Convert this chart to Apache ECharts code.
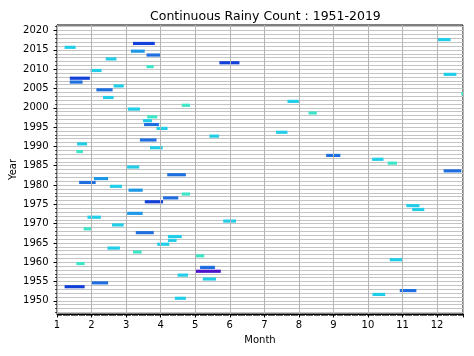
<!DOCTYPE html>
<html><head><meta charset="utf-8">
<script src="https://cdn.jsdelivr.net/npm/echarts@6/dist/echarts.min.js"></script>
<style>html,body{margin:0;padding:0;background:#fff}#c{width:474px;height:356px}</style>
</head><body><div id="c"></div>
<script>
// Year of each rainy spell
const years = [2018,2017,2016,2015,2014,2013,2012,2011,2010,2009,2008,2007,2006,2005,2004,2003,2002,2001,2000,1999,
  1998,1997,1996,1995,1994,1993,1992,1991,1990,1989,1988,1987,1986,1985,1984,1983,1982,1981,1980,1979,
  1978,1977,1976,1975,1974,1973,1972,1971,1970,1969,1968,1967,1966,1965,1964,1963,1962,1961,1960,1959,
  1958,1957,1956,1955,1954,1953,1952,1951];
// Start (month, fractional)
const startMonth = [12.00,3.20,1.22,3.14,3.59,2.41,5.70,3.59,1.97,12.19,1.37,1.37,2.64,2.14,12.70,2.33,7.67,4.61,3.05,8.28,
  3.61,3.49,3.52,3.88,7.34,5.41,3.40,1.58,3.69,1.56,8.79,10.12,10.57,3.03,12.19,4.19,2.07,1.64,2.53,3.07,
  4.61,4.07,3.54,11.11,11.28,3.03,1.88,5.81,2.59,1.77,3.28,4.21,4.21,3.90,2.46,3.20,5.01,10.63,1.56,5.14,
  5.01,4.49,5.22,2.01,1.22,10.92,10.13,4.41];
// End (month, fractional)
const endMonth = [12.39,3.83,1.54,3.54,4.00,2.72,6.28,3.80,2.29,12.56,1.95,1.74,2.93,2.61,12.85,2.64,8.00,4.85,3.40,8.52,
  3.90,3.75,3.95,4.20,7.67,5.69,3.88,1.87,4.06,1.75,9.20,10.45,10.84,3.38,12.70,4.73,2.48,2.12,2.88,3.48,
  4.85,4.51,4.07,11.49,11.63,3.48,2.27,6.18,2.93,2.00,3.80,4.61,4.46,4.25,2.82,3.45,5.26,10.99,1.80,5.57,
  5.74,4.79,5.60,2.48,1.80,11.40,10.50,4.73];
// Continuous rainy count (drives colour)
const rainyCount = [9,16,9,11,13,9,16,7,9,9,16,13,9,13,7,9,9,7,9,7,
  7,9,13,9,9,9,13,9,9,7,13,9,7,9,13,13,11,13,9,11,
  7,13,16,9,9,11,9,9,9,7,13,9,9,9,9,7,7,9,7,13,
  20,9,9,13,16,13,9,9];
const xTickLabels = [1,2,3,4,5,6,7,8,9,10,11,12];
const yTickLabels = [1950,1955,1960,1965,1970,1975,1980,1985,1990,1995,2000,2005,2010,2015,2020];
const yMinorYears = [];
for (let y = 1947; y <= 2021; y++) yMinorYears.push(y);

const data = years.map((y, i) => [startMonth[i], endMonth[i], y, rainyCount[i]]);
const FONT = 'DejaVu Sans';
const chart = echarts.init(document.getElementById('c'), null, {renderer: 'canvas'});
const yMin = 1946.6, yMax = 2021.45;
chart.setOption({
  animation: false,
  backgroundColor: '#fff',
  title: {
    text: 'Continuous Rainy Count : 1951-2019',
    left: 145, top: 5,
    textStyle: {fontFamily: FONT, fontSize: 12.5, fontWeight: 'normal', color: '#000'}
  },
  grid: {left: 57, top: 25, width: 406, height: 289, show: true, borderColor: '#000', borderWidth: 1,
    backgroundColor: 'transparent', containLabel: false, outerBoundsMode: 'none'},
  xAxis: {
    type: 'value', min: 1, max: 12.75, interval: 1, z: 5,
    name: 'Month', nameLocation: 'middle', nameGap: 21,
    nameTextStyle: {fontFamily: FONT, fontSize: 10, color: '#000'},
    axisLine: {show: true, lineStyle: {color: '#000', width: 1}},
    axisTick: {show: true, length: 3.5, lineStyle: {color: '#000'}},
    minorTick: {show: true, splitNumber: 30, length: 2, lineStyle: {color: '#000', width: 0.6}},
    axisLabel: {fontFamily: FONT, fontSize: 10, color: '#000', margin: 6,
      customValues: xTickLabels, formatter: v => String(v)},
    splitLine: {show: true, lineStyle: {color: '#b4b4b4', width: 1}}
  },
  yAxis: [{
    type: 'value', min: yMin, max: yMax, position: 'left', z: 4,
    name: 'Year', nameLocation: 'middle', nameGap: 39, nameRotate: 90, nameMoveOverlap: false,
    nameTextStyle: {fontFamily: FONT, fontSize: 10, color: '#000'},
    axisLine: {show: true, lineStyle: {color: '#000', width: 1}},
    axisTick: {show: true, length: 3.5, customValues: yTickLabels, lineStyle: {color: '#000'}},
    axisLabel: {fontFamily: FONT, fontSize: 10, color: '#000', margin: 8.5, customValues: yTickLabels,
      formatter: v => String(v)},
    splitLine: {show: false}
  }, {
    type: 'value', min: yMin, max: yMax, position: 'left', offset: 0,
    axisLine: {show: false},
    axisTick: {show: true, length: 2, customValues: yMinorYears, lineStyle: {color: '#000', width: 0.7}},
    axisLabel: {show: false},
    splitLine: {show: true, lineStyle: {color: '#c4c4c4', width: 1}}
  }],
  visualMap: {
    type: 'piecewise', show: false, dimension: 3, seriesIndex: 0,
    pieces: [
      {value: 7, color: '#3ee6c8'},
      {value: 9, color: '#22cde8'},
      {value: 11, color: '#1e98e6'},
      {value: 13, color: '#1f6fe0'},
      {value: 16, color: '#1240d8'},
      {value: 20, color: '#4c12cc'}
    ]
  },
  series: [{
    type: 'custom',
    yAxisIndex: 0,
    z: 2,
    encode: {x: [0, 1], y: 2},
    data: data,
    renderItem: function (params, api) {
      const s = api.value(0), e = api.value(1), y = api.value(2) - 0.33;
      const p0 = api.coord([s, y]);
      const p1 = api.coord([e, y]);
      const h = api.size([0, 0.82])[1];
      const cs = params.coordSys;
      const rect = echarts.graphic.clipRectByRect(
        {x: p0[0], y: p0[1] - h / 2, width: p1[0] - p0[0], height: h},
        {x: cs.x, y: cs.y, width: cs.width, height: cs.height});
      return rect && {type: 'rect', shape: rect, style: {fill: api.visual('color')}};
    }
  }]
});
</script></body></html>
